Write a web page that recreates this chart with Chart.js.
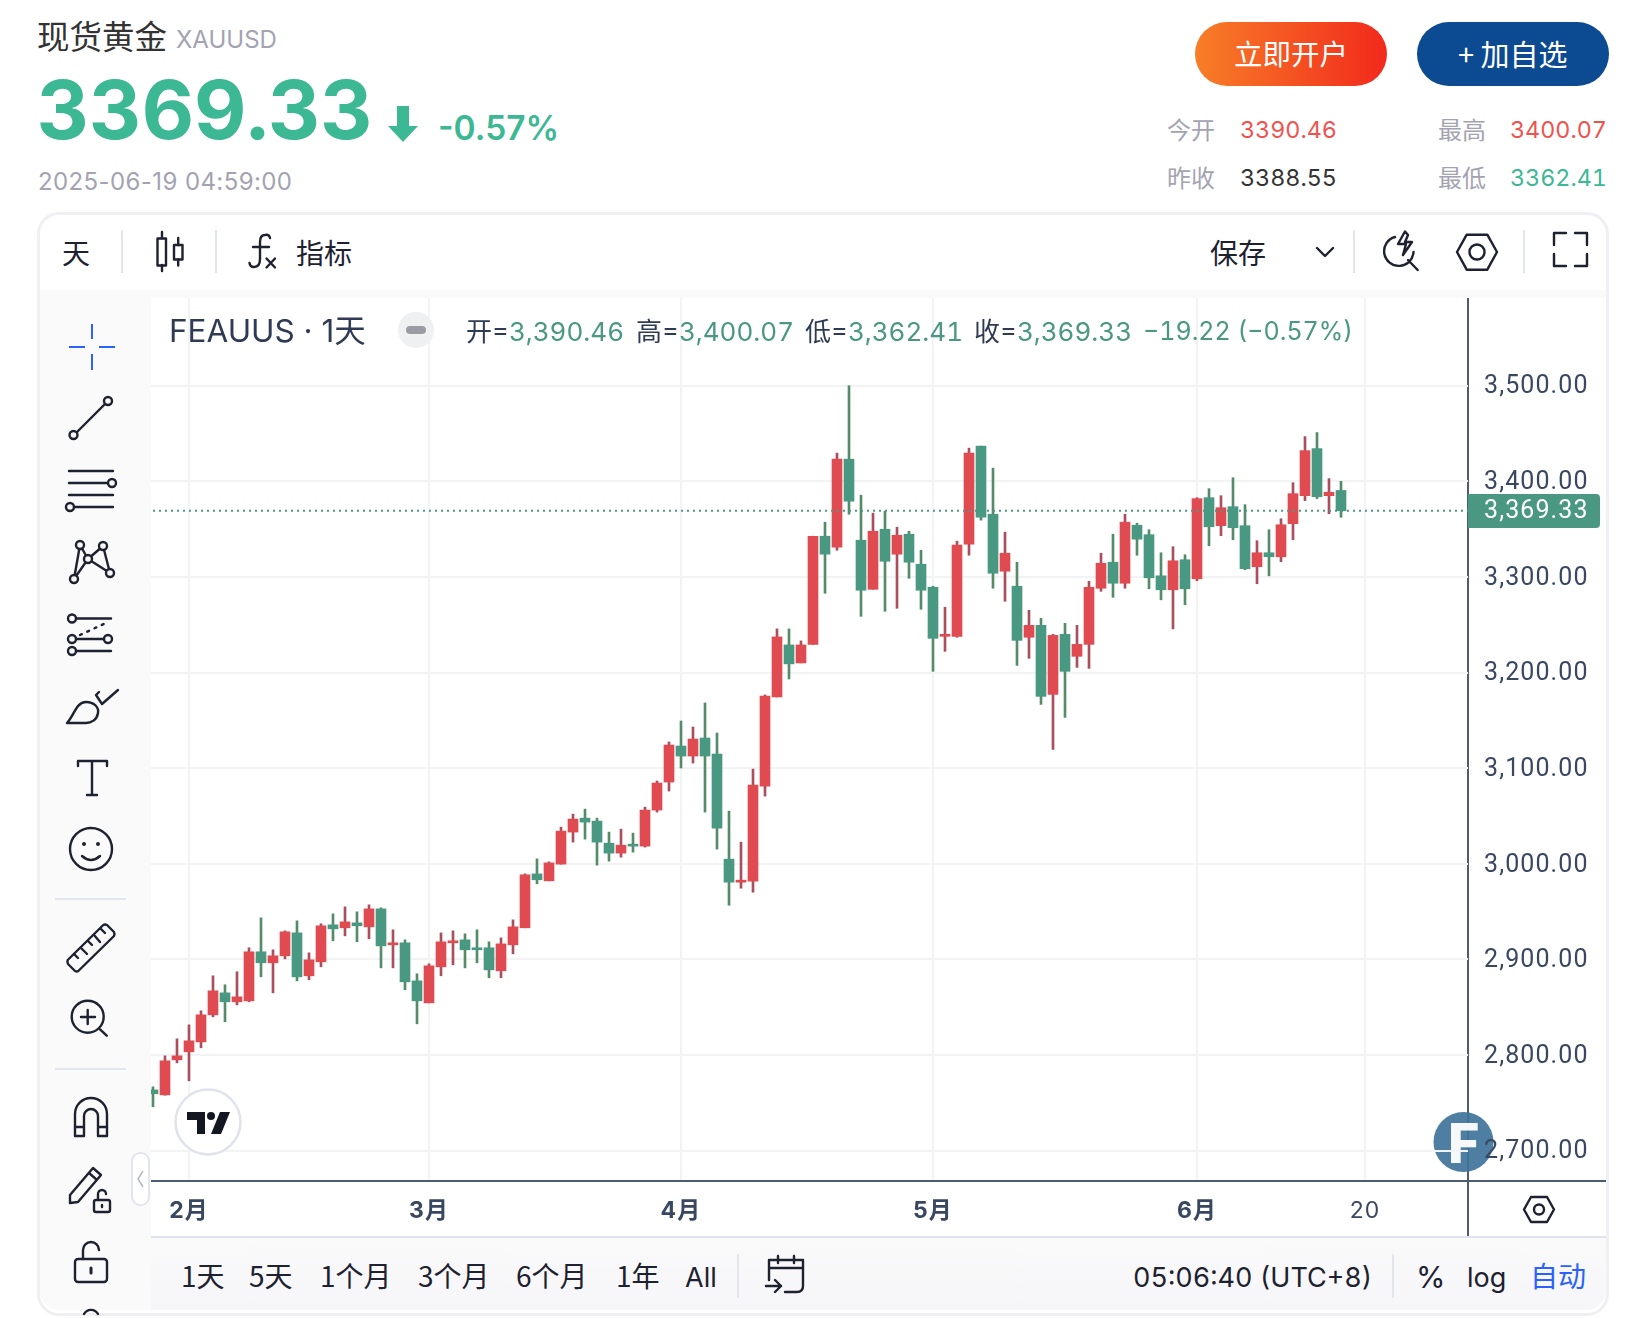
<!DOCTYPE html>
<html lang="zh"><head><meta charset="utf-8"><title>现货黄金 XAUUSD</title>
<script src="https://cdn.jsdelivr.net/npm/chart.js@4"></script>
<style>
html,body{margin:0;padding:0;background:#fff;width:1650px;height:1318px;overflow:hidden}
body{position:relative;font-family:Inter,"Noto Sans CJK SC",sans-serif}
.t{position:absolute;white-space:nowrap;line-height:1;transform:translateY(-50%);font-family:Inter,"Noto Sans CJK SC",sans-serif;font-variant-numeric:tabular-nums}
.nt{font-variant-numeric:normal}
.cn{font-family:"Noto Sans CJK SC",sans-serif}
.box{position:absolute}
canvas{position:absolute;left:151px;top:298px}
svg{position:absolute;left:0;top:0}
.ink{fill:none;stroke:#1d2130;stroke-width:2.4;stroke-linecap:round;stroke-linejoin:round}
</style></head><body>
<!-- card -->
<div class="box" style="left:37px;top:212px;width:1566px;height:1098px;border:3px solid #f0f0f4;border-radius:22px;background:#fff"></div>
<div class="box" style="left:40px;top:290px;width:1566px;height:8px;background:#fafafb"></div>
<div class="box" style="left:40px;top:290px;width:111px;height:1020px;background:#fafafb;border-bottom-left-radius:20px"></div>
<div class="box" style="left:151px;top:1238px;width:1455px;height:72px;background:linear-gradient(#fafafb,#f6f6f8);border-bottom-right-radius:20px"></div>
<div class="box" style="left:1467px;top:298px;width:2px;height:938px;background:#4f5b76"></div>
<svg width="1650" height="1318" viewBox="0 0 1650 1318"><circle cx="1463.5" cy="1142" r="30" fill="#3f7399" fill-opacity=".92"/></svg>
<div class="t" style="left:1448px;top:1144px;font-family:Roboto;font-size:56px;font-weight:900;color:#fff;opacity:.95">F</div>
<canvas id="c" width="1457" height="938"></canvas>
<div class="box" style="left:151px;top:1236px;width:1455px;height:2px;background:#e0e3eb"></div>
<div class="box" style="left:151px;top:1180px;width:1455px;height:2px;background:#4f5b76"></div>
<!-- header -->
<div class="t cn" style="left:37px;top:35px;font-size:32.5px;color:#333">现货黄金</div>
<div class="t" style="left:176px;top:40px;font-size:24px;color:#a3a3b2">XAUUSD</div>
<div class="t" style="left:37px;top:110px;font-size:81px;font-weight:700;color:#3db894">3369.33</div>
<div class="t nt" style="left:438px;top:129px;font-size:33.5px;font-weight:600;color:#3db894">-0.57%</div>
<div class="t nt" style="left:38px;top:182px;font-size:24px;letter-spacing:.4px;color:#a3a3b2">2025-06-19 04:59:00</div>
<div class="box" style="left:1195px;top:22px;width:192px;height:64px;border-radius:32px;background:linear-gradient(90deg,#f77e27,#f2291c)"></div>
<div class="t cn" style="left:1234px;top:53px;font-size:28.5px;color:#fff">立即开户</div>
<div class="box" style="left:1417px;top:22px;width:192px;height:64px;border-radius:32px;background:#0c4a92"></div>
<div class="t cn" style="left:1458px;top:53px;font-size:29px;color:#fff">+ 加自选</div>
<div class="t cn" style="left:1167px;top:129px;font-size:24px;color:#a3a3b2">今开</div>
<div class="t" style="left:1240px;top:130px;font-size:23.3px;color:#ef5350">3390.46</div>
<div class="t cn" style="left:1438px;top:129px;font-size:24px;color:#a3a3b2">最高</div>
<div class="t" style="left:1510px;top:130px;font-size:23.3px;color:#ef5350">3400.07</div>
<div class="t cn" style="left:1167px;top:177px;font-size:24px;color:#a3a3b2">昨收</div>
<div class="t" style="left:1240px;top:178px;font-size:23.3px;color:#333">3388.55</div>
<div class="t cn" style="left:1438px;top:177px;font-size:24px;color:#a3a3b2">最低</div>
<div class="t" style="left:1510px;top:178px;font-size:23.3px;color:#3db894">3362.41</div>
<!-- toolbar -->
<div class="t cn" style="left:62px;top:252px;font-size:28px;color:#1d2130">天</div>
<div class="t cn" style="left:296px;top:252px;font-size:28px;color:#1d2130">指标</div>
<div class="t cn" style="left:1210px;top:252px;font-size:28px;color:#1d2130">保存</div>
<!-- legend -->
<div class="t nt" style="left:169px;top:330px;font-size:31.5px;color:#2f3b54">FEAUUS · 1<span class="cn">天</span></div>
<div class="t" style="left:466px;top:331px;font-size:26px;color:#2f3b54"><span class="cn">开</span>=<span style="color:#4a9882">3,390.46</span></div>
<div class="t" style="left:636px;top:331px;font-size:26px;color:#2f3b54"><span class="cn">高</span>=<span style="color:#4a9882">3,400.07</span></div>
<div class="t" style="left:805px;top:331px;font-size:26px;color:#2f3b54"><span class="cn">低</span>=<span style="color:#4a9882">3,362.41</span></div>
<div class="t" style="left:974px;top:331px;font-size:26px;color:#2f3b54"><span class="cn">收</span>=<span style="color:#4a9882">3,369.33</span></div>
<div class="t" style="left:1143px;top:331px;font-size:25px;color:#4a9882">−19.22 (−0.57%)</div>
<!-- price tag -->
<div class="box" style="left:1468px;top:494px;width:132px;height:34px;background:#4a9882;border-radius:0 4px 4px 0"></div>
<div class="t" style="left:1484px;top:509px;font-family:Roboto;font-size:25px;letter-spacing:1.1px;color:#fff">3,369.33</div>
<!-- bottom bar -->
<div class="t cn" style="left:181px;top:1275px;font-size:28px;color:#1d2130">1天</div>
<div class="t cn" style="left:249px;top:1275px;font-size:28px;color:#1d2130">5天</div>
<div class="t cn" style="left:320px;top:1275px;font-size:28px;color:#1d2130">1个月</div>
<div class="t cn" style="left:418px;top:1275px;font-size:28px;color:#1d2130">3个月</div>
<div class="t cn" style="left:516px;top:1275px;font-size:28px;color:#1d2130">6个月</div>
<div class="t cn" style="left:616px;top:1275px;font-size:28px;color:#1d2130">1年</div>
<div class="t" style="left:685px;top:1277px;font-size:27px;color:#1d2130">All</div>
<div class="t" style="left:1133px;top:1277px;font-size:27px;color:#1d2130">05:06:40 (UTC+8)</div>
<div class="t" style="left:1416px;top:1277px;font-size:30px;color:#1d2130">%</div>
<div class="t" style="left:1467px;top:1277px;font-size:27px;color:#1d2130">log</div>
<div class="t cn" style="left:1530px;top:1275px;font-size:28px;color:#2962ff">自动</div>
<svg width="1650" height="1318" viewBox="0 0 1650 1318">
 <path d="M397 106h12v20h9l-15 16-15-16h9z" fill="#3db894"/>
 <g stroke="#e3e5ec" stroke-width="2">
  <path d="M122 230V273M216 230V273M1354 230V273M1524 230V273M738 1254V1298M1393 1254V1298"/>
  <path d="M55 899H126M55 1069H126"/>
 </g>
 <g class="ink">
  <rect x="157.5" y="238.5" width="8.5" height="27"/><path d="M162 232V238M162 265V271"/>
  <rect x="174" y="245" width="8.5" height="14.5"/><path d="M178.2 238V245M178.2 259.5V265.5"/>
  <path d="M270 238Q269 234 265 235Q260 235 260 242V259Q260 267 254 267Q250 267 249.5 263M253 247H269"/>
  <path d="M266.5 258.5L275 267.5M275 258.5L266.5 267.5"/>
  <path d="M1317 248L1325 256L1333 248"/>
  <path d="M1395 237A14.7 14.7 0 1 0 1413.5 252M1408 260L1417.7 270"/>
  <path d="M1405 231.5L1398 244H1406L1403 255L1412 242H1405L1408 235Z"/>
  <path d="M1457 252L1466.7 234.7H1487.3L1497 252L1487.3 269.7H1466.7Z"/><circle cx="1477" cy="252" r="7.5"/>
  <path d="M1554 245V233H1566M1575 233H1587V245M1587 254V266H1575M1566 266H1554V254"/>
  <path d="M1524 1209.5L1531 1197H1547L1554 1209.5L1547 1222H1531Z"/><circle cx="1539" cy="1209.5" r="5"/>
  <path d="M769 1280V1260H803V1286Q803 1292 797 1292H785M769 1268H803M778 1256V1263M794 1256V1263M766 1286H781M775 1280L781 1286L775 1292"/>
 </g>
 <path d="M69 347H85M99 347H115M92 324V339M92 354V370" stroke="#2962ff" stroke-width="2" fill="none"/>
 <g class="ink">
  <path d="M77 432L105 404"/><circle cx="73.5" cy="435" r="4"/><circle cx="108" cy="401" r="4"/>
  <path d="M69 471H113M69 483H108M69 495H113M74 507H113"/><circle cx="112" cy="483" r="4"/><circle cx="70" cy="507" r="4"/>
  <path d="M74 579L80 545L88 559L74 579M88 559L103 546L110 573L88 559"/>
  <circle cx="80" cy="545" r="4" fill="#fafafb"/><circle cx="103" cy="546" r="4" fill="#fafafb"/><circle cx="88" cy="559" r="4" fill="#fafafb"/><circle cx="74" cy="579" r="4" fill="#fafafb"/><circle cx="110" cy="573" r="4" fill="#fafafb"/>
  <path d="M76 618.5H111M76 639H104M76 651H111"/><path d="M80 635L108 622" stroke-dasharray="2 6"/>
  <circle cx="72" cy="618.5" r="4"/><circle cx="72" cy="639" r="4"/><circle cx="108" cy="639" r="4"/><circle cx="72" cy="651" r="4"/>
  <path d="M67 723C74 716 76 702 86 702C94 702 99 707 98 713C97 720 91 723 86 723Z"/>
  <path d="M99 692L96 695L102 704L118 690"/>
  <path d="M78 766V761H107V766M92 761V795M87 795H97"/>
  <circle cx="91" cy="849" r="21"/><path d="M82 856Q91 864 100 856"/>
  <path d="M67.7 960L103.3 925Q105 924 107 925L114 932Q115 934 114 936L78.3 971Q77 972 75 971L68 964Q67 962 67.7 960Z"/>
  <path d="M74 954L78 958M81 948L87 954M88 941L92 945M94 935L100 942M101 929L105 933"/>
  <circle cx="87.7" cy="1016.7" r="16"/><path d="M100 1029.3L106.7 1035.7M87.7 1010V1024M81 1017H95"/>
  <path d="M75 1136V1114A16 16 0 0 1 107 1114V1136H98V1116A7 7 0 0 0 84 1116V1136ZM75 1127H84M98 1127H107"/>
  <path d="M70 1195L93 1168L101 1175L78 1202L70 1203ZM89 1173L97 1180"/>
  <rect x="94" y="1200" width="16" height="12" rx="2"/><path d="M98 1200V1194A4 4 0 0 1 106 1194"/><path d="M102 1205V1207"/>
  <rect x="75" y="1259" width="32" height="23" rx="3"/><path d="M83 1259V1250A8 8 0 0 1 99 1250"/><path d="M91 1268V1273" stroke-width="3"/>
  <path d="M84 1314A8 8 0 0 1 98 1314"/>
 </g>
 <g fill="#1d2130"><circle cx="84" cy="844" r="2"/><circle cx="98" cy="844" r="2"/></g>
 <circle cx="416" cy="330" r="18" fill="#eff0f2"/><rect x="406" y="326" width="20" height="8" rx="4" fill="#9a9ca4"/>
 <circle cx="208" cy="1122" r="32.5" fill="#fff" stroke="#e0e3eb" stroke-width="2.5"/>
 <path d="M187 1112H205V1134H197V1120H187ZM220 1112H230L221 1134H211Z" fill="#131722"/><circle cx="211" cy="1116" r="4" fill="#131722"/>
 <rect x="132" y="1153" width="17" height="52" rx="8" fill="#fff" stroke="#e3e5ec" stroke-width="2"/>
 <path d="M143 1171L138 1179L143 1187" fill="none" stroke="#b5b8c2" stroke-width="1.5"/>
</svg>
<script>
const opens=[2763.6,2758.4,2795,2803.4,2813.8,2842.1,2865.1,2855.7,2856.7,2908,2896.5,2903.8,2927.8,2882.9,2897.5,2936.2,2933.1,2938.3,2934.1,2952.9,2915.3,2917.4,2877.6,2854.6,2892.3,2917.4,2920.5,2912.2,2912.2,2888.1,2915.3,2933.1,2989.5,2982.2,2999.7,3033.2,3047.8,3044.7,3021.6,3011.2,3020.6,3018.5,3056.2,3085.5,3123.2,3112.7,3131.6,3114.8,3004.9,2980.8,2981.9,3081.3,3174.5,3228.9,3210.1,3229.5,3342.6,3331.1,3423.2,3338.4,3287.1,3349.9,3323.8,3344.7,3313.3,3289.2,3237.9,3237.9,3334.2,3436.8,3365.6,3306,3290.3,3236.9,3249.4,3177.2,3240,3217,3229.5,3288.2,3315.4,3293.4,3354.1,3344.2,3301.2,3286.6,3318,3298.1,3382.9,3353.6,3373.5,3353.6,3310.7,3325.3,3321.1,3355.7,3385,3434.2,3385,3390.46];
const highs=[2766.8,2799.2,2817,2831.6,2846.3,2882.9,2873.5,2887.1,2912.2,2943.5,2910.1,2929.9,2940.4,2906.9,2937.3,2947.7,2955,2949.8,2957.1,2954,2931,2920.5,2885,2895.4,2927.8,2929.9,2926.8,2931,2918.4,2922.6,2941.4,2989.5,3005.2,3002.1,3038.4,3052,3057.2,3047.8,3033.2,3036.3,3032.1,3059.3,3086.6,3127.4,3149.4,3143.1,3168.2,3136.8,3055.1,3022.7,3099.1,3176.6,3245.7,3245.7,3233.1,3342.6,3357.3,3429.5,3500,3385.5,3366.7,3368.8,3352,3347.8,3327.9,3290.3,3268.3,3337.4,3434.7,3436.8,3413.8,3346.8,3315.4,3265.1,3256.7,3240,3251.5,3249.4,3295.5,3324.8,3344.7,3365.6,3356.2,3349.4,3325.3,3331.6,3323.2,3382.9,3392.3,3385,3403.8,3375.6,3337.9,3349.4,3360.9,3398.6,3446.8,3451,3402.8,3400.07];
const lows=[2745.9,2758,2791.9,2773.1,2807.6,2840,2834.8,2852.5,2855.7,2881.8,2865.1,2900.6,2877.6,2878.7,2892.3,2919.5,2924.7,2918.4,2921.6,2891.2,2891.2,2868.2,2832.7,2854.6,2882.9,2894.4,2891.2,2896.5,2880.8,2880.8,2905.9,2933.1,2979.1,2982.2,2999.7,3022.7,3025.8,2998.6,3002.8,3007,3012.2,3017.5,3054.1,3076.1,3100.2,3105.4,3054.1,3015.4,2956.7,2974.5,2970.3,3070.8,3174.5,3193.3,3210.1,3229.5,3282.9,3327.9,3365.6,3258.8,3287.1,3264.1,3267.2,3298.6,3266.2,3201.3,3222.2,3236.9,3322.7,3359.4,3288.2,3274.5,3207.5,3214.9,3166.7,3119.6,3153.1,3205.4,3204.4,3285,3278.7,3288.2,3322.7,3287.6,3276.1,3245.7,3270.9,3296,3332.6,3343.1,3338.9,3307.5,3292.9,3301.2,3315.9,3338.9,3379.8,3381.9,3366.1,3362.41];
const closes=[2759.5,2794,2799.2,2814.9,2842.1,2867.2,2855.7,2860.9,2908,2896.5,2903.8,2928.9,2881.8,2899.6,2935.2,2932,2939.3,2935.2,2952.9,2914.2,2917.4,2876.6,2856.7,2893.3,2918.4,2919.5,2910.1,2910.1,2889.1,2916.3,2934.1,2988.5,2983.3,3001,3034.2,3046.8,3043.6,3022.7,3011.2,3019.5,3018.5,3056.2,3084.5,3124.2,3112.7,3130.5,3112.7,3037.3,2980.8,2982.9,3082.4,3175.5,3237.3,3209.1,3228.9,3342.6,3323.8,3423.2,3379.2,3286.1,3347.8,3316.4,3343.6,3315.4,3286.1,3235.8,3240,3333.2,3429.5,3362.5,3303.9,3324.8,3233.7,3249.4,3175.1,3238.9,3201.3,3229.5,3289.2,3314.3,3293.4,3357.3,3339.5,3299.1,3286.6,3316.9,3287.6,3381.9,3352.5,3372.4,3351.5,3308.6,3325.3,3321.1,3354.6,3387.1,3432.1,3383.9,3388.55,3369.33];
const xTickIndex=[3,23,44,65,87,101];
const xTickLabels=['2月','3月','4月','5月','6月','20'];
const yTickValues=[2700,2800,2900,3000,3100,3200,3300,3400,3500];
const lastPrice=3369.33;
const idx=opens.map((_,i)=>i);
const isUp=i=>closes[i]>=opens[i];
const fontFam='Inter,"Noto Sans CJK SC",sans-serif';
new Chart(document.getElementById('c'),{
 type:'bar',
 data:{datasets:[
  {type:'line',order:0,data:[{x:-1,y:lastPrice},{x:120,y:lastPrice}],borderColor:'#4a9882',borderWidth:2,borderDash:[2,4],pointRadius:0,fill:false},
  {order:1,grouped:false,barThickness:10,data:idx.map(i=>({x:i,y:[opens[i],closes[i]]})),backgroundColor:idx.map(i=>isUp(i)?'#e04a51':'#499882'),borderWidth:0},
  {order:2,grouped:false,barThickness:2,data:idx.map(i=>({x:i,y:[lows[i],highs[i]]})),backgroundColor:idx.map(i=>isUp(i)?'#ab4f5c':'#558c68'),borderWidth:0}
 ]},
 plugins:[{id:'spacing',beforeDraw(ch){ch.ctx.letterSpacing='1.1px'}}],
 options:{
  responsive:false,animation:false,devicePixelRatio:1,
  layout:{padding:0},
  plugins:{legend:{display:false},tooltip:{enabled:false}},
  scales:{
   x:{type:'linear',offset:false,min:-1/6,max:1315/12,
    grid:{offset:false,color:'#f2f3f5',lineWidth:2,drawTicks:false},border:{display:false},
    afterBuildTicks(s){s.ticks=xTickIndex.map(v=>({value:v}))},
    afterFit(s){s.height=56;s.paddingLeft=0;s.paddingRight=0},
    ticks:{padding:17,autoSkip:false,maxRotation:0,color:'#3a4760',
     font:c=>({family:fontFam,size:23,weight:c.tick&&c.tick.value===101?'400':'700'}),
     callback:v=>xTickLabels[xTickIndex.indexOf(v)]}},
   y:{type:'linear',position:'right',min:3500-(1180-385.7)/0.95625,max:3500+(385.7-298)/0.95625,
    grid:{color:'#f2f3f5',lineWidth:2,drawTicks:false},border:{display:false},
    afterBuildTicks(s){s.ticks=yTickValues.map(v=>({value:v}))},
    afterFit(s){s.width=140;s.paddingTop=0;s.paddingBottom=0},
    ticks:{padding:16,labelOffset:1.5,color:'#3a4760',font:{family:'Roboto',size:25},
     callback:v=>v.toLocaleString('en-US',{minimumFractionDigits:2})}}
  }
 }
});
</script>
</body></html>
